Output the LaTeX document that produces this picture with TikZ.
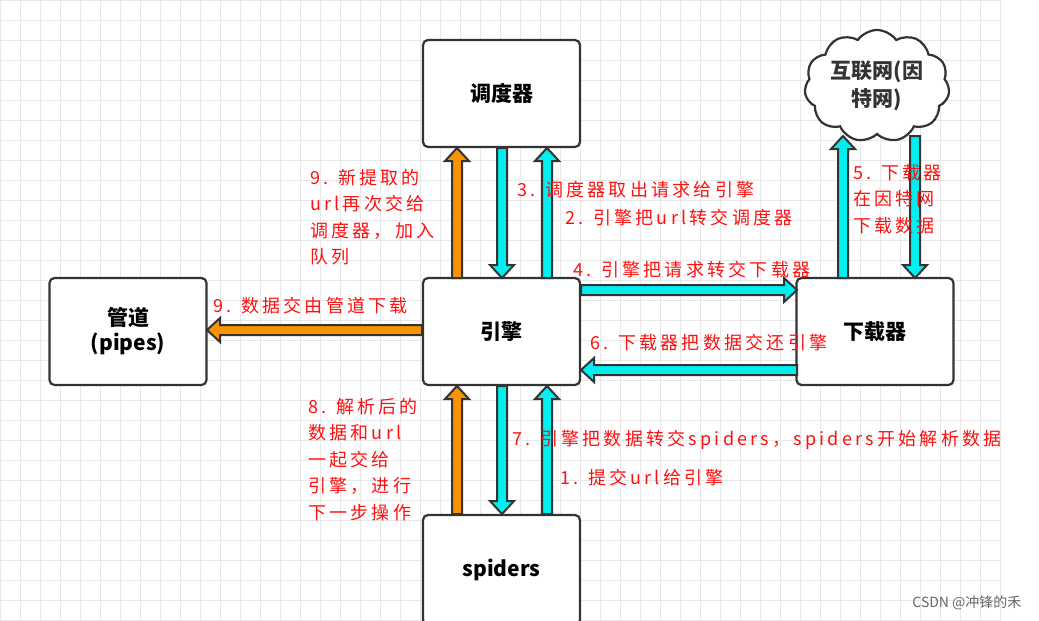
\documentclass[tikz,border=0pt]{standalone}
\usepackage{fontspec}
\setmainfont{Noto Sans CJK SC}
\newfontfamily\redfont{Noto Sans CJK SC}[LetterSpace=18]
\usetikzlibrary{shapes.symbols}
\definecolor{cy}{HTML}{00F0F0}
\definecolor{og}{HTML}{F79400}
\definecolor{ed}{HTML}{333333}
\definecolor{rd}{HTML}{FF1010}
\tikzset{
 box/.style={draw=ed,line width=2.2pt,rounded corners=5pt,fill=white,minimum width=157pt,minimum height=107pt,font=\fontsize{21}{25}\selectfont\bfseries,align=center},
 arr/.style={draw=ed,line width=2pt,line join=miter},
 lab/.style={text=rd,font=\redfont\fontsize{18}{26.5}\selectfont,align=left,anchor=west,inner sep=0pt}
}
\newcommand\varr[4]{% color, x, ystart, yend (tip)
 \pgfmathsetmacro\dd{(#4>#3)?-13:13}
 \filldraw[arr,fill=#1] ({#2-5},#3) -- ({#2-5},{#4+\dd}) -- ({#2-12},{#4+\dd}) -- (#2,#4) -- ({#2+12},{#4+\dd}) -- ({#2+5},{#4+\dd}) -- ({#2+5},#3) -- cycle;}
\newcommand\harr[4]{% color, y, xstart, xend (tip)
 \pgfmathsetmacro\dd{(#4>#3)?-13:13}
 \filldraw[arr,fill=#1] (#3,{#2-5}) -- ({#4+\dd},{#2-5}) -- ({#4+\dd},{#2-12}) -- (#4,#2) -- ({#4+\dd},{#2+12}) -- ({#4+\dd},{#2+5}) -- (#3,{#2+5}) -- cycle;}
\begin{document}
\begin{tikzpicture}[x=1pt,y=-1pt]
\useasboundingbox (0,0) rectangle (1039,621);
\fill[white] (0,0) rectangle (1039,621);
\draw[black!9,line width=0.6pt] (0,0) grid[step=20pt] (1000,621);
\node[box] (sch) at (501.5,93.5) {调度器};
\node[box] (pipe) at (128,331.5) {管道\\(pipes)};
\node[box] (eng) at (501.5,331.5) {引擎};
\node[box] (dl) at (875,331.5) {下载器};
\node[box,minimum height=110pt] (sp) at (501.5,570) {spiders};
\node[cloud,draw=ed,line width=2.2pt,fill=white,cloud puffs=11,cloud puff arc=110,minimum width=145pt,minimum height=102pt,aspect=1.35,align=center,font=\fontsize{21}{28}\selectfont\bfseries,text=ed,inner sep=0pt] (net) at (877,86) {互联网(因\\特网)};
% arrows
\varr{og}{457}{278}{148}
\varr{cy}{502}{148}{278}
\varr{cy}{547}{278}{148}
\varr{og}{457}{514}{386}
\varr{cy}{502}{386}{514}
\varr{cy}{547}{514}{386}
\harr{og}{330}{422}{207}
\harr{cy}{290}{581}{797}
\harr{cy}{370}{797}{581}
\varr{cy}{843}{278}{136}
\varr{cy}{915}{136}{278}
% labels
\node[lab,anchor=north west] at (310,169) {9. 新提取的\\url再次交给\\调度器，加入\\队列};
\node[lab] at (517,190) {3. 调度器取出请求给引擎};
\node[lab] at (565,218) {2. 引擎把url转交调度器};
\node[lab] at (573,270) {4. 引擎把请求转交下载器};
\node[lab] at (213,306) {9. 数据交由管道下载};
\node[lab] at (590,343) {6. 下载器把数据交还引擎};
\node[lab,anchor=north west] at (853,164) {5. 下载器\\在因特网\\下载数据};
\node[lab,anchor=north west] at (308,398) {8. 解析后的\\数据和url\\一起交给\\引擎，进行\\下一步操作};
\node[lab] at (512,440) {7. 引擎把数据转交spiders，spiders开始解析数据};
\node[lab] at (560,478) {1. 提交url给引擎};
\node[text=black!60,font=\fontsize{14}{16}\selectfont,anchor=east] (wm) at (1025,603) {CSDN @冲锋的禾};
\end{tikzpicture}
\end{document}
